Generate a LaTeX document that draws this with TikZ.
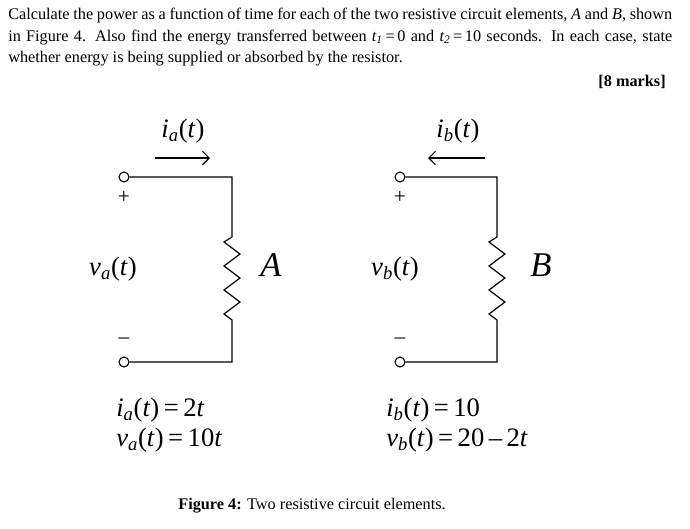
\documentclass[tikz,border=0pt]{standalone}
\usepackage{fontspec}
\usetikzlibrary{arrows.meta}
\setmainfont{Liberation Serif}
\begin{document}
\begin{tikzpicture}[x=0.75pt,y=-0.75pt,
  term/.style={circle,draw,thick,inner sep=0pt,minimum size=7.5pt},
  wire/.style={line width=0.9pt},
  big/.style={font=\fontsize{20}{22}\selectfont,inner sep=0pt},
  eqn/.style={font=\fontsize{20}{24}\selectfont,inner sep=0pt,anchor=west},
  txt/.style={font=\fontsize{12.2}{16}\selectfont,inner sep=0pt}]
\useasboundingbox (0,0) rectangle (690,529);
\node[txt,anchor=north west,text width=664*0.75pt,align=justify] (para) at (8,8)
 {Calculate the power as a function of time for each of the two resistive circuit elements, \textit{A} and \textit{B}, shown in Figure 4. Also find the energy transferred between \textit{t\textsubscript{1}}\,=\,0 and \textit{t\textsubscript{2}}\,=\,10 seconds. In each case, state whether energy is being supplied or absorbed by the resistor.};
\node[txt,anchor=east,font=\bfseries\fontsize{12.2}{14}\selectfont] (marks) at (666,82) {[8 marks]};
% circuit A
\node[big] (ia) at (183,131) {\textit{i\textsubscript{a}}(\textit{t})};
\coordinate (ia1) at (155,158); \coordinate (ia2) at (210,158);
\draw[wire,-{Straight Barb[length=5pt]}] (ia1) -- (ia2);
\node[term] (ta1) at (124,177) {};
\node[big,font=\fontsize{16}{16}\selectfont] (pa) at (124,197) {+};
\node[term] (ta2) at (124,362) {};
\node[big,font=\fontsize{16}{16}\selectfont] (ma) at (124,341) {--};
\coordinate (ca1) at (232,177); \coordinate (ra1) at (232,237);
\coordinate (ra2) at (232,320); \coordinate (ca2) at (232,362);
\draw[wire] (ta1) -- (ca1) -- (ra1) -- ++(-8,5) -- ++(16,12) -- ++(-16,12) -- ++(16,12) -- ++(-16,12) -- ++(16,12) -- ++(-16,12) -- (ra2) -- (ca2) -- (ta2);
\node[big] (va) at (113,269) {\textit{v\textsubscript{a}}(\textit{t})};
\node[big,font=\fontsize{26}{26}\selectfont] (A) at (271,265) {\textit{A}};
% circuit B
\node[big] (ib) at (458,131) {\textit{i\textsubscript{b}}(\textit{t})};
\coordinate (ib1) at (485,158); \coordinate (ib2) at (428,158);
\draw[wire,-{Straight Barb[length=5pt]}] (ib1) -- (ib2);
\node[term] (tb1) at (400,177) {};
\node[big,font=\fontsize{16}{16}\selectfont] (pb) at (400,197) {+};
\node[term] (tb2) at (400,362) {};
\node[big,font=\fontsize{16}{16}\selectfont] (mb) at (400,341) {--};
\coordinate (cb1) at (497,177); \coordinate (rb1) at (497,237);
\coordinate (rb2) at (497,320); \coordinate (cb2) at (497,362);
\draw[wire] (tb1) -- (cb1) -- (rb1) -- ++(-8,5) -- ++(16,12) -- ++(-16,12) -- ++(16,12) -- ++(-16,12) -- ++(16,12) -- ++(-16,12) -- (rb2) -- (cb2) -- (tb2);
\node[big] (vb) at (395,269) {\textit{v\textsubscript{b}}(\textit{t})};
\node[big,font=\fontsize{26}{26}\selectfont] (B) at (541,265) {\textit{B}};
% equations
\node[eqn] (e1) at (116,410) {\textit{i\textsubscript{a}}(\textit{t})\,=\,2\textit{t}};
\node[eqn] (e2) at (116,440) {\textit{v\textsubscript{a}}(\textit{t})\,=\,10\textit{t}};
\node[eqn] (e3) at (386,410) {\textit{i\textsubscript{b}}(\textit{t})\,=\,10};
\node[eqn] (e4) at (386,440) {\textit{v\textsubscript{b}}(\textit{t})\,=\,20\,–\,2\textit{t}};
\node[txt] (cap) at (312,506) {\textbf{Figure 4:} Two resistive circuit elements.};
\end{tikzpicture}
\end{document}
